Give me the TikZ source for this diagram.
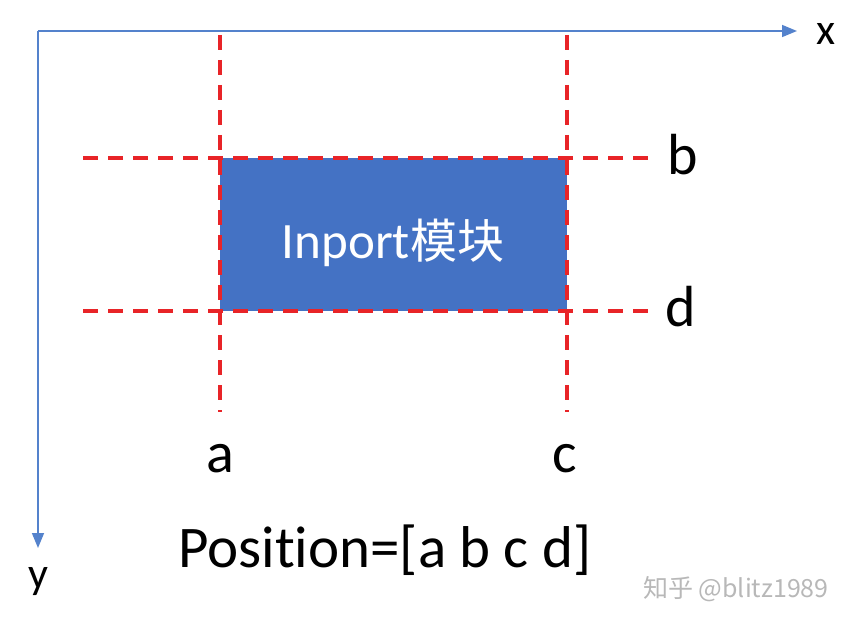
\documentclass[tikz,border=0pt]{standalone}
\usepackage{fontspec}
\setmainfont{Carlito}[Ligatures=NoCommon]
\newfontfamily\cjkfont{Noto Sans CJK SC}
\usepackage{tikz}
\usetikzlibrary{arrows.meta}
\usetikzlibrary{positioning}
\definecolor{axisblue}{RGB}{84,130,204}
\definecolor{guidered}{RGB}{232,36,40}
\definecolor{blockblue}{RGB}{68,114,196}
\tikzset{
    guide/.style={
        draw=guidered,
        line width=3.2pt,
        dash pattern=on 15pt off 10pt
    },
    axisline/.style={
        draw=axisblue,
        line width=1.5pt,
        -{Triangle[length=15pt, width=12pt]}
    },
    letter/.style={
        inner sep=0pt,
        anchor=base,
        font=\fontsize{58}{58}\selectfont
    },
    axislabel/.style={
        inner sep=0pt,
        anchor=base,
        font=\fontsize{44}{44}\selectfont
    }
}

\begin{document}
\begin{tikzpicture}[x=1pt, y=-1pt]
  % Page frame
  \useasboundingbox (0,0) rectangle (854,623);

  % Axes
  \coordinate (origin) at (38,31);
  \coordinate (xend) at (797,31);
  \coordinate (yend) at (38,548);
  \draw[axisline] (origin) -- (xend);
  \draw[axisline] (origin) -- (yend);
  \node[axislabel] (xlabel) at (826,45) {x};
  \node[axislabel] (ylabel) at (38,588) {y};

  % The block
  \node[fill=blockblue, inner sep=0pt, minimum width=347pt, minimum height=153pt,
        anchor=north west] (block) at (220,158) {};
  \node[inner sep=0pt, anchor=base, text=white, font=\fontsize{51}{51}\selectfont]
        (blocktext) at (393,258) {Inport{\cjkfont\fontsize{47}{47}\selectfont 模块}};

  % Guide lines
  \foreach \gx/\name in {220/a, 567/c} {
    \coordinate (\name top) at (\gx,35);
    \coordinate (\name bot) at (\gx,412);
    \draw[guide] (\name top) -- (\name bot);
  }
  \foreach \gy/\name in {158/b, 311/d} {
    \coordinate (\name left) at (83,\gy);
    \coordinate (\name right) at (655,\gy);
    \draw[guide] (\name left) -- (\name right);
  }

  % Labels
  \node[letter] (alabel) at (220,472) {a};
  \node[letter] (clabel) at (565,472) {c};
  \node[letter] (blabel) at (683,175) {b};
  \node[letter] (dlabel) at (681,326) {d};
  \node[letter, anchor=base west, font=\fontsize{59}{59}\selectfont]
        (position) at (178,567) {Position=[a b c d]};

  % Watermark
  \node[inner sep=0pt, anchor=base west, text=black!28,
        font=\cjkfont\fontsize{25}{25}\selectfont] (mark) at (643,597) {知乎 @blitz1989};
\end{tikzpicture}
\end{document}
